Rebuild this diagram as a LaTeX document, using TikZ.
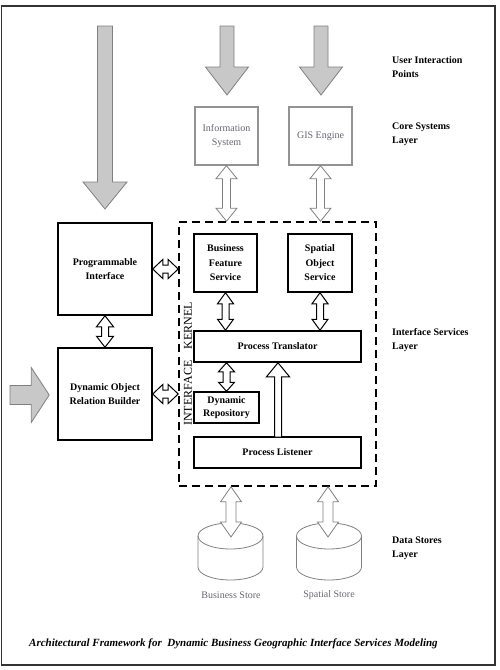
\documentclass[tikz,border=0pt]{standalone}
\usepackage{fontspec}
\setmainfont{Liberation Serif}
\usetikzlibrary{calc}
\definecolor{arrgray}{RGB}{200,200,200}
\definecolor{edgegray}{RGB}{128,128,128}
\definecolor{txtgray}{RGB}{105,100,110}
\newcommand\vdbl[6]{\draw[#1] let \p1=(#2),\p2=(#3) in
 (\x1,\y1) -- (\x1+#5pt,\y1-#6pt) -- (\x1+#4pt,\y1-#6pt) -- (\x1+#4pt,\y2+#6pt) -- (\x1+#5pt,\y2+#6pt) -- (\x1,\y2)
 -- (\x1-#5pt,\y2+#6pt) -- (\x1-#4pt,\y2+#6pt) -- (\x1-#4pt,\y1-#6pt) -- (\x1-#5pt,\y1-#6pt) -- cycle;}
\newcommand\hdbl[6]{\draw[#1] let \p1=(#2),\p2=(#3) in
 (\x1,\y1) -- (\x1+#6pt,\y1+#5pt) -- (\x1+#6pt,\y1+#4pt) -- (\x2-#6pt,\y1+#4pt) -- (\x2-#6pt,\y1+#5pt) -- (\x2,\y1)
 -- (\x2-#6pt,\y1-#5pt) -- (\x2-#6pt,\y1-#4pt) -- (\x1+#6pt,\y1-#4pt) -- (\x1+#6pt,\y1-#5pt) -- cycle;}
% single arrow pointing down: start (top), tip (bottom)
\newcommand\sdown[6]{\draw[#1] let \p1=(#2),\p2=(#3) in
 (\x1-#4pt,\y1) -- (\x1-#4pt,\y2+#6pt) -- (\x1-#5pt,\y2+#6pt) -- (\x1,\y2) -- (\x1+#5pt,\y2+#6pt) -- (\x1+#4pt,\y2+#6pt) -- (\x1+#4pt,\y1) -- cycle;}
% single arrow pointing up: start (bottom), tip (top)
\newcommand\sarrowup[6]{\draw[#1] let \p1=(#2),\p2=(#3) in
 (\x1-#4pt,\y1) -- (\x1-#4pt,\y2-#6pt) -- (\x1-#5pt,\y2-#6pt) -- (\x1,\y2) -- (\x1+#5pt,\y2-#6pt) -- (\x1+#4pt,\y2-#6pt) -- (\x1+#4pt,\y1) -- cycle;}
% single arrow pointing right: start (left), tip (right)
\newcommand\sright[6]{\draw[#1] let \p1=(#2),\p2=(#3) in
 (\x1,\y1-#4pt) -- (\x2-#6pt,\y1-#4pt) -- (\x2-#6pt,\y1-#5pt) -- (\x2,\y1) -- (\x2-#6pt,\y1+#5pt) -- (\x2-#6pt,\y1+#4pt) -- (\x1,\y1+#4pt) -- cycle;}
\tikzset{
  blackbox/.style={draw=black, line width=1.5pt, fill=white, align=center, inner sep=0pt,
    font=\fontsize{10}{14.5}\selectfont\bfseries},
  graybox/.style={draw=edgegray!85, line width=1.3pt, fill=white, align=center, inner sep=0pt,
    text=txtgray, font=\fontsize{10}{14}\selectfont},
  bigarrow/.style={draw=edgegray, line width=0.8pt, fill=arrgray},
  grayarrow/.style={draw=edgegray, line width=0.8pt, fill=white},
  blkarrow/.style={draw=black, line width=1pt, fill=white},
  layerlabel/.style={anchor=west, align=left, inner sep=0pt, font=\fontsize{10}{14}\selectfont\bfseries},
  storelabel/.style={text=txtgray, inner sep=0pt, font=\fontsize{10}{12}\selectfont},
  cyl/.style={draw=edgegray, line width=0.8pt}
}
\begin{document}
\begin{tikzpicture}[x=1pt,y=-1pt]
\useasboundingbox (0,0) rectangle (500,670);
\draw[black!80, line width=1.2pt] (1.5,6) rectangle (495,665);

% core systems
\node[graybox, minimum width=63, minimum height=58] (isys) at (226.5,136) {Information\\System};
\node[graybox, minimum width=63, minimum height=58] (gis) at (320.5,136) {GIS Engine};

% left column
\node[blackbox, minimum width=94, minimum height=92] (pi) at (105,269) {Programmable\\Interface};
\node[blackbox, minimum width=94, minimum height=92] (dorb) at (105,394) {Dynamic Object\\Relation Builder};

% kernel
\node[draw=black, line width=1.6pt, dash pattern=on 8pt off 5pt, minimum width=197, minimum height=264, inner sep=0pt] (kernel) at (277.5,354) {};
\node[blackbox, minimum width=63, minimum height=58] (bfs) at (225.5,263) {Business\\Feature\\Service};
\node[blackbox, minimum width=64, minimum height=58] (sos) at (320,263) {Spatial\\Object\\Service};
\node[blackbox, minimum width=167, minimum height=31] (pt) at (277.5,346.5) {Process Translator};
\node[blackbox, minimum width=65, minimum height=31, font=\fontsize{10}{13.5}\selectfont\bfseries] (dr) at (226.5,407.5) {Dynamic\\Repository};
\node[blackbox, minimum width=167, minimum height=31] (pl) at (277.5,452.5) {Process Listener};
\node[rotate=90, inner sep=0pt, font=\fontsize{12}{12}\selectfont] (klabel) at (188,364) {INTERFACE\hspace{11pt}KERNEL};

% stores
\coordinate (bs) at (230.5,536);
\coordinate (ss) at (329,536);
\foreach \c in {bs,ss}{
  \draw[cyl] (\c) ellipse [x radius=32.5pt, y radius=13pt];
  \draw[cyl] ($(\c)+(-32.5,0)$) -- ($(\c)+(-32.5,31)$) arc[start angle=180, end angle=360, x radius=32.5pt, y radius=13pt] -- ($(\c)+(32.5,0)$);
}
\node[storelabel] (bsl) at (231,595) {Business Store};
\node[storelabel] (ssl) at (329,595) {Spatial Store};

% layer labels
\node[layerlabel] (l1) at (392,67) {User Interaction\\Points};
\node[layerlabel] (l2) at (392,134) {Core Systems\\Layer};
\node[layerlabel] (l3) at (392,340) {Interface Services\\Layer};
\node[layerlabel] (l4) at (392,548) {Data Stores\\Layer};

% caption
\node[anchor=west, inner sep=0pt, font=\fontsize{11}{13}\selectfont\bfseries\itshape] (cap) at (29,644)
  {Architectural Framework for\enspace Dynamic Business Geographic Interface Services Modeling};

% big gray arrows (user interaction points)
\coordinate (a1s) at (105,26);  \coordinate (a1t) at (105,209);
\coordinate (a2s) at (227,26);  \coordinate (a2t) at (227,95);
\coordinate (a3s) at (321,26);  \coordinate (a3t) at (321,95);
\sdown{bigarrow}{a1s}{a1t}{7.5}{22}{27}
\sdown{bigarrow}{a2s}{a2t}{7}{21.5}{28}
\sdown{bigarrow}{a3s}{a3t}{7}{21.5}{28}
\coordinate (a4s) at (10,395);
\coordinate (a4t) at ($(dorb.west)+(-8,0)$);
\sright{bigarrow}{a4s}{a4t}{9.5}{27.5}{18}

% core systems <-> kernel
\vdbl{grayarrow}{isys.south}{isys.south |- kernel.north}{4}{10.5}{13}
\vdbl{grayarrow}{gis.south}{gis.south |- kernel.north}{4}{10.5}{13}

% kernel <-> stores
\coordinate (bst) at (231,537);
\coordinate (sst) at (328,537);
\vdbl{grayarrow}{bst |- kernel.south}{bst}{5}{10.5}{15}
\vdbl{grayarrow}{sst |- kernel.south}{sst}{5}{10.5}{15}

% left column arrows
\vdbl{blkarrow}{pi.south}{dorb.north}{3.5}{8.5}{11}
\hdbl{blkarrow}{pi.east}{pi.east -| kernel.west}{4}{9.5}{10}
\hdbl{blkarrow}{dorb.east}{dorb.east -| kernel.west}{4}{9.5}{10}

% kernel internal arrows
\vdbl{blkarrow}{bfs.south}{bfs.south |- pt.north}{3.5}{8}{11}
\vdbl{blkarrow}{sos.south}{sos.south |- pt.north}{3.5}{8}{11}
\vdbl{blkarrow}{pt.south -| dr.north}{dr.north}{3.5}{8}{9}
\coordinate (plx) at (278,437);
\sarrowup{blkarrow}{plx}{plx |- pt.south}{3.5}{11.5}{14}
\end{tikzpicture}
\end{document}
